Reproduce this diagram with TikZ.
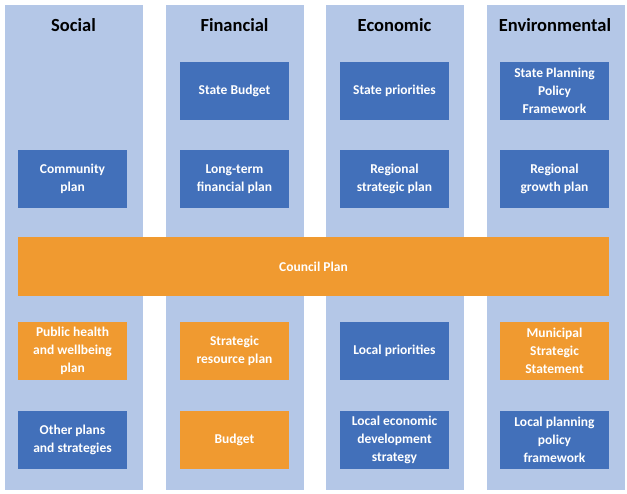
\documentclass[tikz,border=0pt]{standalone}
\usepackage{fontspec}
\setmainfont{Carlito}
\definecolor{colbg}{HTML}{B4C7E7}
\definecolor{dblue}{HTML}{4270BA}
\definecolor{orng}{HTML}{F09A30}
\begin{document}
\begin{tikzpicture}[x=1pt,y=-1pt,
  col/.style={fill=colbg,draw=none},
  hdr/.style={font=\fontsize{18.5}{22}\selectfont\bfseries,text=black},
  bx/.style={draw=none,text=white,font=\fontsize{13.5}{18}\selectfont\bfseries,align=center,minimum width=109pt,minimum height=58pt,inner sep=1pt},
  bb/.style={bx,fill=dblue},
  ob/.style={bx,fill=orng}]
\useasboundingbox (0,0) rectangle (627,494);
\fill[white] (0,0) rectangle (627,494);
\foreach \x in {5,166,326,487}{\fill[colbg] (\x,5) rectangle (\x+138,490);}
\node[hdr] (h1) at (73.5,25) {Social};
\node[hdr] (h2) at (234.5,25) {Financial};
\node[hdr] (h3) at (394.5,25) {Economic};
\node[hdr] (h4) at (555,25) {Environmental};
% row1
\node[bb] (fb1) at (234.5,91) {State Budget};
\node[bb] (eb1) at (394.5,91) {State priorities};
\node[bb] (vb1) at (554.5,91) {State Planning\\Policy\\Framework};
% row2
\node[bb] (sb2) at (72.5,179) {Community\\plan};
\node[bb] (fb2) at (234.5,179) {Long-term\\financial plan};
\node[bb] (eb2) at (394.5,179) {Regional\\strategic plan};
\node[bb] (vb2) at (554.5,179) {Regional\\growth plan};
% council
\node[ob,minimum width=591pt,minimum height=59pt] (cp) at (313.5,266.5) {Council Plan};
% row4
\node[ob] (sb4) at (72.5,351) {Public health\\and wellbeing\\plan};
\node[ob] (fb4) at (234.5,351) {Strategic\\resource plan};
\node[bb] (eb4) at (394.5,351) {Local priorities};
\node[ob] (vb4) at (554.5,351) {Municipal\\Strategic\\Statement};
% row5
\node[bb] (sb5) at (72.5,440) {Other plans\\and strategies};
\node[ob] (fb5) at (234.5,440) {Budget};
\node[bb] (eb5) at (394.5,440) {Local economic\\development\\strategy};
\node[bb] (vb5) at (554.5,440) {Local planning\\policy\\framework};
\end{tikzpicture}
\end{document}
